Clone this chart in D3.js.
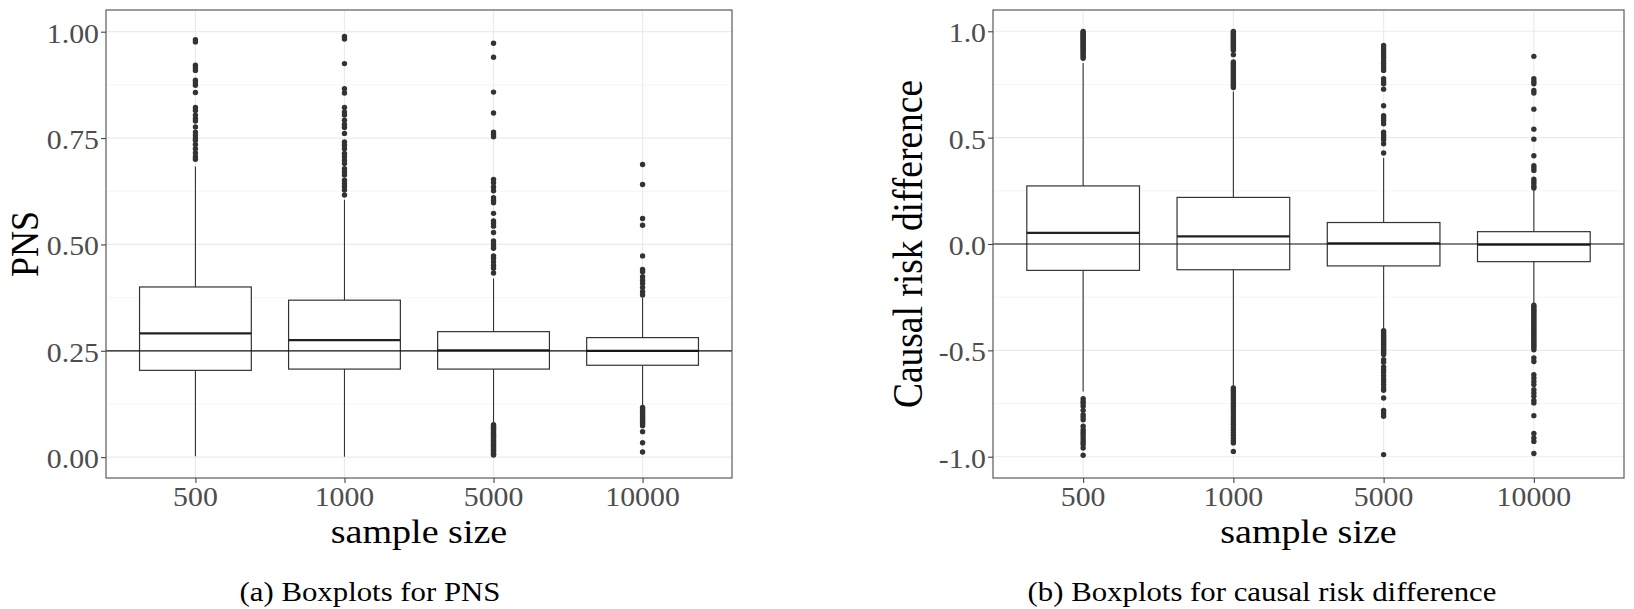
<!DOCTYPE html>
<html>
<head>
<meta charset="utf-8">
<script src="https://cdn.jsdelivr.net/npm/d3@7"></script>
<style>
  body { margin: 0; background: #fff; }
  text { font-family: "Liberation Serif", "Times New Roman", serif; }
</style>
</head>
<body>
<div id="chart"></div>
<script>
// categories on the x axis
var sampleSizes = ["500", "1000", "5000", "10000"];

// (a) PNS boxplot stats, one value per sample size
var pnsLower  = [0.002, 0.001, 0.080, 0.122];
var pnsQ1     = [0.204, 0.207, 0.207, 0.216];
var pnsMedian = [0.291, 0.275, 0.251, 0.250];
var pnsQ3     = [0.400, 0.369, 0.295, 0.281];
var pnsUpper  = [0.683, 0.605, 0.420, 0.374];
var pnsOutliers = [
  [0.981, 0.976, 0.921, 0.915, 0.909, 0.886, 0.880, 0.874, 0.857, 0.822, 0.815, 0.804,
   0.796, 0.790, 0.776, 0.764, 0.757, 0.750, 0.745, 0.735, 0.725, 0.715, 0.706, 0.700],
  [0.989, 0.983, 0.925, 0.866, 0.856, 0.822, 0.811, 0.804, 0.792, 0.782, 0.775, 0.761,
   0.741, 0.733, 0.725, 0.714, 0.706, 0.698, 0.690, 0.678, 0.670, 0.663, 0.651, 0.643,
   0.636, 0.628, 0.616],
  [0.973, 0.940, 0.858, 0.809, 0.764, 0.759, 0.753, 0.653, 0.645, 0.635, 0.626, 0.610,
   0.604, 0.598, 0.573, 0.555, 0.549, 0.543, 0.528, 0.508, 0.502, 0.496, 0.491, 0.473,
   0.467, 0.459, 0.451, 0.444, 0.433,
   0.076, 0.073, 0.071, 0.068, 0.065, 0.062, 0.059, 0.057, 0.054, 0.051, 0.048, 0.046,
   0.043, 0.040, 0.037, 0.034, 0.031, 0.028, 0.025, 0.022, 0.019, 0.016, 0.013, 0.010,
   0.007, 0.005],
  [0.688, 0.641, 0.561, 0.545, 0.473, 0.441, 0.436, 0.424, 0.416, 0.408, 0.399, 0.389,
   0.381,
   0.117, 0.113, 0.110, 0.106, 0.103, 0.099, 0.095, 0.092, 0.088, 0.085, 0.081, 0.078,
   0.074, 0.060, 0.034, 0.012]
];
var pnsTicks = [0, 0.25, 0.5, 0.75, 1];
var pnsRef = 0.25;

// (b) causal risk difference boxplot stats
var rdLower  = [-0.693, -0.669, -0.403, -0.283];
var rdQ1     = [-0.124, -0.121, -0.103, -0.083];
var rdMedian = [0.052, 0.036, 0.003, -0.003];
var rdQ3     = [0.273, 0.219, 0.101, 0.058];
var rdUpper  = [0.851, 0.717, 0.404, 0.255];
var rdOutliers = [
  [0.999, 0.994, 0.989, 0.983, 0.978, 0.972, 0.966, 0.960, 0.954, 0.948, 0.942, 0.936,
   0.930, 0.923, 0.916, 0.909, 0.902, 0.895, 0.888, 0.880, 0.873,
   -0.727, -0.740, -0.750, -0.763, -0.782, -0.802, -0.813, -0.826, -0.857, -0.873,
   -0.885, -0.896, -0.907, -0.920, -0.932, -0.943, -0.959, -0.993],
  [0.999, 0.993, 0.987, 0.981, 0.975, 0.969, 0.963, 0.957, 0.951, 0.945, 0.939, 0.932,
   0.925, 0.918, 0.911, 0.890, 0.856, 0.848, 0.840, 0.832, 0.824, 0.816, 0.808, 0.800,
   0.792, 0.784, 0.776, 0.768, 0.760, 0.752, 0.744, 0.736,
   -0.677, -0.686, -0.695, -0.705, -0.716, -0.727, -0.738, -0.749, -0.760, -0.771,
   -0.783, -0.795, -0.808, -0.821, -0.834, -0.847, -0.860, -0.873, -0.886, -0.899,
   -0.912, -0.925, -0.935, -0.975],
  [0.933, 0.921, 0.910, 0.897, 0.885, 0.874, 0.861, 0.850, 0.838, 0.827, 0.816, 0.777,
   0.764, 0.753, 0.728, 0.650, 0.603, 0.592, 0.581, 0.565, 0.525, 0.514, 0.503, 0.490,
   0.471, 0.428,
   -0.408, -0.415, -0.422, -0.429, -0.436, -0.443, -0.450, -0.457, -0.464, -0.471,
   -0.478, -0.485, -0.492, -0.499, -0.506, -0.513, -0.520, -0.544, -0.556, -0.578,
   -0.591, -0.603, -0.619, -0.634, -0.646, -0.661, -0.677, -0.688, -0.724, -0.783,
   -0.797, -0.810, -0.990],
  [0.882, 0.777, 0.764, 0.753, 0.722, 0.710, 0.634, 0.540, 0.493, 0.415, 0.368, 0.357,
   0.346, 0.305, 0.294, 0.283, 0.271, 0.263,
   -0.288, -0.296, -0.304, -0.312, -0.320, -0.328, -0.336, -0.344, -0.352, -0.360,
   -0.368, -0.376, -0.384, -0.392, -0.400, -0.408, -0.416, -0.424, -0.432, -0.440,
   -0.448, -0.456, -0.464, -0.472, -0.480, -0.488, -0.497, -0.536, -0.552, -0.614,
   -0.630, -0.646, -0.661, -0.685, -0.700, -0.716, -0.735, -0.747, -0.807, -0.891,
   -0.912, -0.928, -0.985]
];
var rdTicks = [-1, -0.5, 0, 0.5, 1];
var rdRef = 0;

// the source figure is stretched sideways a bit, text too
var SX = 1.12;

var svg = d3.select("#chart")
  .append("svg")
    .attr("width", 1634)
    .attr("height", 609);

function stretchedText(g, x, y, size, str, opts) {
  opts = opts || {};
  var t = "translate(" + x + "," + y + ") scale(" + SX + ",1)";
  if (opts.rotate) t += " rotate(-90)";
  return g.append("text")
    .attr("transform", t)
    .attr("text-anchor", opts.anchor || "middle")
    .style("font-size", size + "px")
    .style("fill", opts.fill || "#000")
    .text(str);
}

function drawPanel(p) {
  var g = svg.append("g");

  var x = d3.scalePoint()
    .domain(sampleSizes)
    .range([p.left, p.right])
    .padding(0.6);
  var y = d3.scaleLinear()
    .domain(p.domain)
    .range([p.bottom, p.top]);
  var boxW = x.step() * 0.75;

  var step = p.ticks[1] - p.ticks[0];
  var minor = d3.pairs(p.ticks).map(function(d) { return (d[0] + d[1]) / 2; });
  minor = minor.concat([p.ticks[0] - step / 2, p.ticks[p.ticks.length - 1] + step / 2])
    .filter(function(v) { return v > p.domain[0] && v < p.domain[1]; });

  // grid
  g.selectAll(".minor").data(minor).enter().append("line")
    .attr("x1", p.left).attr("x2", p.right)
    .attr("y1", function(d) { return y(d); }).attr("y2", function(d) { return y(d); })
    .attr("stroke", "#f3f3f3").attr("stroke-width", 0.8);
  g.selectAll(".major").data(p.ticks).enter().append("line")
    .attr("x1", p.left).attr("x2", p.right)
    .attr("y1", function(d) { return y(d); }).attr("y2", function(d) { return y(d); })
    .attr("stroke", "#ebebeb").attr("stroke-width", 1.2);
  g.selectAll(".vgrid").data(sampleSizes).enter().append("line")
    .attr("x1", function(d) { return x(d); }).attr("x2", function(d) { return x(d); })
    .attr("y1", p.top).attr("y2", p.bottom)
    .attr("stroke", "#ebebeb").attr("stroke-width", 1.2);

  // boxes
  var stats = sampleSizes.map(function(s, i) {
    return {s: s, lo: p.lower[i], q1: p.q1[i], med: p.median[i], q3: p.q3[i], hi: p.upper[i], out: p.outliers[i]};
  });
  var box = g.selectAll(".box").data(stats).enter().append("g");
  box.append("line")
    .attr("x1", function(d) { return x(d.s); }).attr("x2", function(d) { return x(d.s); })
    .attr("y1", function(d) { return y(d.q3); }).attr("y2", function(d) { return y(d.hi); })
    .attr("stroke", "#333").attr("stroke-width", 1.1);
  box.append("line")
    .attr("x1", function(d) { return x(d.s); }).attr("x2", function(d) { return x(d.s); })
    .attr("y1", function(d) { return y(d.q1); }).attr("y2", function(d) { return y(d.lo); })
    .attr("stroke", "#333").attr("stroke-width", 1.1);
  box.append("rect")
    .attr("x", function(d) { return x(d.s) - boxW / 2; })
    .attr("width", boxW)
    .attr("y", function(d) { return y(d.q3); })
    .attr("height", function(d) { return y(d.q1) - y(d.q3); })
    .attr("fill", "#fff").attr("stroke", "#333").attr("stroke-width", 1.2);
  box.append("line")
    .attr("x1", function(d) { return x(d.s) - boxW / 2; }).attr("x2", function(d) { return x(d.s) + boxW / 2; })
    .attr("y1", function(d) { return y(d.med); }).attr("y2", function(d) { return y(d.med); })
    .attr("stroke", "#222").attr("stroke-width", 2.2);
  box.selectAll("circle").data(function(d) { return d.out.map(function(v) { return {s: d.s, v: v}; }); })
    .enter().append("circle")
      .attr("cx", function(d) { return x(d.s); })
      .attr("cy", function(d) { return y(d.v); })
      .attr("r", 2.7)
      .attr("fill", "#333");

  // reference line
  g.append("line")
    .attr("x1", p.left).attr("x2", p.right)
    .attr("y1", y(p.ref)).attr("y2", y(p.ref))
    .attr("stroke", "#111").attr("stroke-width", 1.2);

  // border
  g.append("rect")
    .attr("x", p.left).attr("y", p.top)
    .attr("width", p.right - p.left).attr("height", p.bottom - p.top)
    .attr("fill", "none").attr("stroke", "#5a5a5a").attr("stroke-width", 1.2);

  // y axis ticks + labels
  var yAxis = d3.axisLeft(y).tickValues(p.ticks).tickSize(5).tickFormat("");
  var ya = g.append("g").attr("transform", "translate(" + p.left + ",0)").call(yAxis);
  ya.select(".domain").remove();
  ya.selectAll(".tick line").attr("stroke", "#444").attr("stroke-width", 1.1);
  p.ticks.forEach(function(v) {
    stretchedText(g, p.left - 7, y(v) + 11, 26.6, d3.format(p.fmt)(v).replace("−", "-"), {anchor: "end", fill: "#4d4d4d"});
  });

  // x axis ticks + labels
  var xAxis = d3.axisBottom(x).tickSize(5).tickFormat("");
  var xa = g.append("g").attr("transform", "translate(0," + p.bottom + ")").call(xAxis);
  xa.select(".domain").remove();
  xa.selectAll(".tick line").attr("stroke", "#444").attr("stroke-width", 1.1);
  sampleSizes.forEach(function(s) {
    stretchedText(g, x(s), 506, 26.6, s, {fill: "#4d4d4d"});
  });

  // titles
  stretchedText(g, (p.left + p.right) / 2, 543, 34, "sample size");
  stretchedText(g, p.titleX, (p.top + p.bottom) / 2, p.titleSize, p.ytitle, {rotate: true});
  stretchedText(g, p.captionX, 601, 27.5, p.caption);
}

drawPanel({
  left: 106, right: 732, top: 10, bottom: 478,
  domain: [-0.049, 1.051],
  ticks: pnsTicks, fmt: ".2f", ref: pnsRef,
  lower: pnsLower, q1: pnsQ1, median: pnsMedian, q3: pnsQ3, upper: pnsUpper, outliers: pnsOutliers,
  ytitle: "PNS", titleX: 38, titleSize: 36,
  caption: "(a) Boxplots for PNS", captionX: 370
});

drawPanel({
  left: 993, right: 1624, top: 10, bottom: 478,
  domain: [-1.1, 1.1],
  ticks: rdTicks, fmt: ".1f", ref: rdRef,
  lower: rdLower, q1: rdQ1, median: rdMedian, q3: rdQ3, upper: rdUpper, outliers: rdOutliers,
  ytitle: "Causal risk difference", titleX: 922, titleSize: 37.5,
  caption: "(b) Boxplots for causal risk difference", captionX: 1262
});
</script>
</body>
</html>
